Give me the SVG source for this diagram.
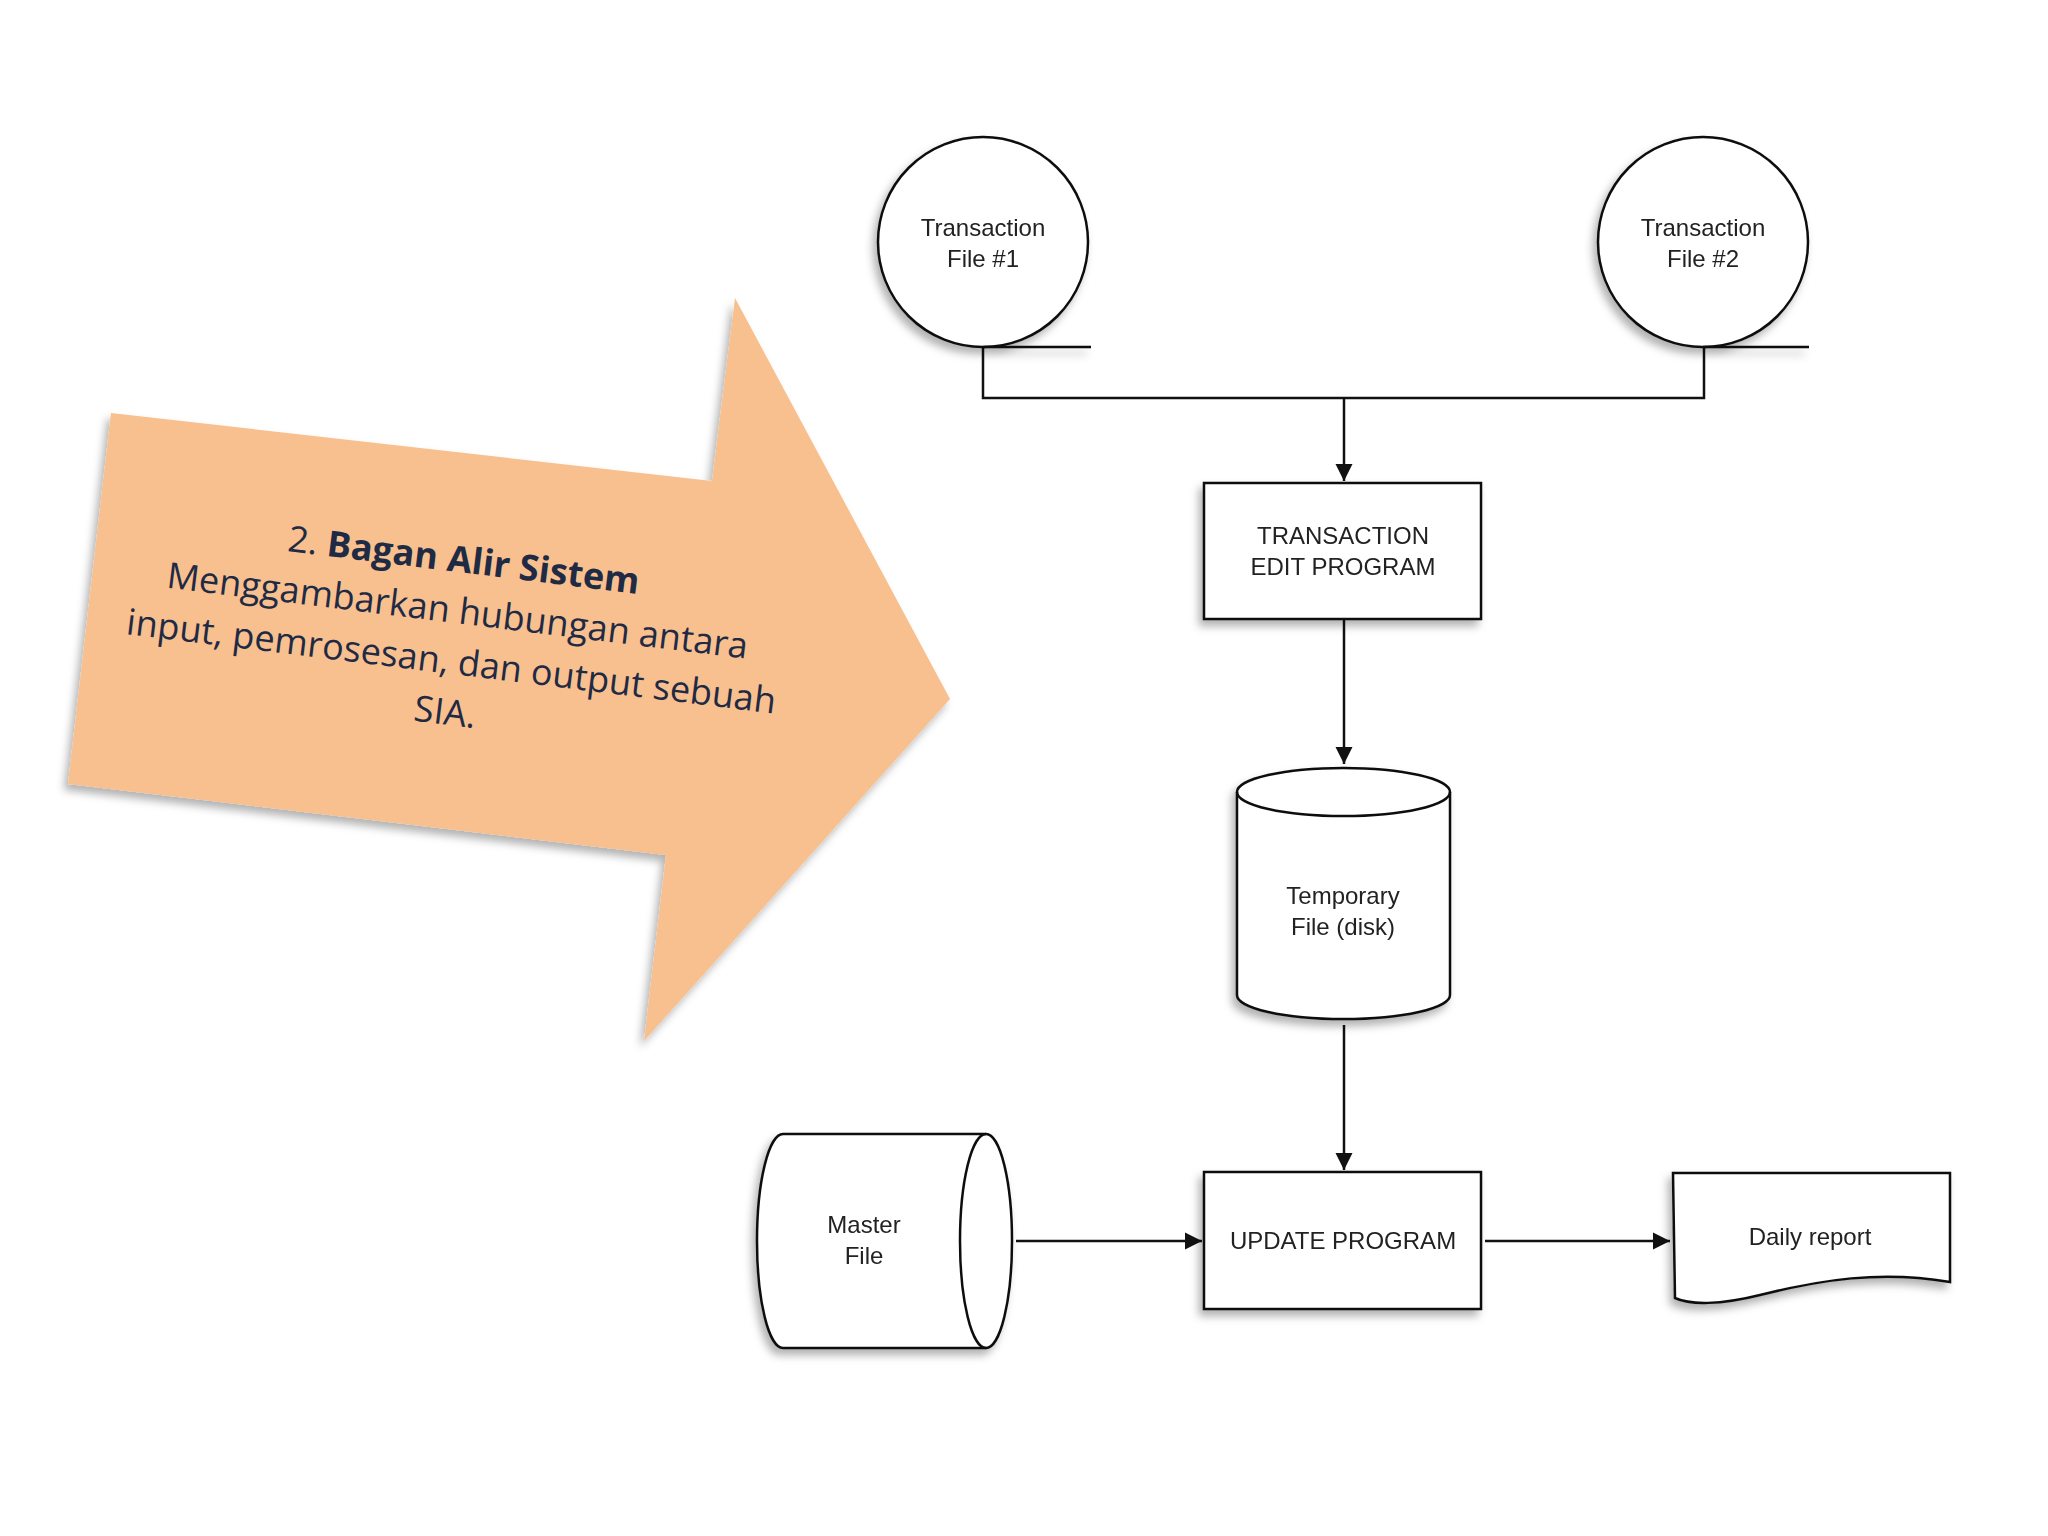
<svg xmlns="http://www.w3.org/2000/svg" width="2048" height="1536" viewBox="0 0 2048 1536">
<defs>
<style>
.s{fill:#fff;stroke:#111;stroke-width:2.5}
.l{fill:none;stroke:#111;stroke-width:2.5}
.t{font-family:"Liberation Sans",Arial,sans-serif;font-size:24px;fill:#222;text-anchor:middle}
.b{font-family:"Open Sans",sans-serif;font-size:36px;fill:#1f2a44;text-anchor:middle}
</style>
<marker id="a" viewBox="0 0 10 10" refX="10" refY="5" markerWidth="7" markerHeight="7" orient="auto"><path d="M0,0L10,5L0,10z" fill="#111"/></marker>
<filter id="sh" x="-20%" y="-20%" width="140%" height="140%"><feDropShadow dx="-4" dy="6" stdDeviation="4" flood-color="#000" flood-opacity="0.3"/></filter>
</defs>
<rect width="2048" height="1536" fill="#fff"/>
<g id="bigarrow">
<polygon points="111,413 712,481 735,298 950,699 644,1041 666,855 68,784" fill="#f8c08f" filter="url(#sh)"/>
<g transform="rotate(7 454 640)">
<text class="b" x="454" y="572"><tspan>2. </tspan><tspan font-weight="bold">Bagan Alir Sistem</tspan></text>
<text class="b" x="454" y="623">Menggambarkan hubungan antara</text>
<text class="b" x="454" y="674">input, pemrosesan, dan output sebuah</text>
<text class="b" x="454" y="725">SIA.</text>
</g>
</g>
<g id="connectors">
<path class="l" d="M983,347V398H1704V347"/>
<path class="l" d="M1344,398V481" marker-end="url(#a)"/>
<path class="l" d="M1344,619V764" marker-end="url(#a)"/>
<path class="l" d="M1344,1025V1170" marker-end="url(#a)"/>
<path class="l" d="M1016,1241H1202" marker-end="url(#a)"/>
<path class="l" d="M1485,1241H1670" marker-end="url(#a)"/>
</g>
<g id="tf1" filter="url(#sh)">
<circle class="s" cx="983" cy="242" r="105"/>
<path class="l" d="M983,347H1091"/>
<text class="t" x="983" y="236">Transaction</text><text class="t" x="983" y="267">File #1</text>
</g>
<g id="tf2" filter="url(#sh)">
<circle class="s" cx="1703" cy="242" r="105"/>
<path class="l" d="M1703,347H1809"/>
<text class="t" x="1703" y="236">Transaction</text><text class="t" x="1703" y="267">File #2</text>
</g>
<g id="tep" filter="url(#sh)">
<rect class="s" x="1204" y="483" width="277" height="136"/>
<text class="t" x="1343" y="544">TRANSACTION</text><text class="t" x="1343" y="575">EDIT PROGRAM</text>
</g>
<g id="temp" filter="url(#sh)">
<path class="s" d="M1237,792V995A106,24 0 0 0 1450,995V792A106,24 0 0 0 1237,792Z"/>
<path class="l" d="M1237,792A106,24 0 0 0 1450,792"/>
<text class="t" x="1343" y="904">Temporary</text><text class="t" x="1343" y="935">File (disk)</text>
</g>
<g id="up" filter="url(#sh)">
<rect class="s" x="1204" y="1172" width="277" height="137"/>
<text class="t" x="1343" y="1249">UPDATE PROGRAM</text>
</g>
<g id="master" filter="url(#sh)">
<path class="s" d="M986,1134H783A26,107 0 0 0 783,1348H986A26,107 0 0 0 986,1134Z"/>
<path class="l" d="M986,1134A26,107 0 0 0 986,1348"/>
<text class="t" x="864" y="1233">Master</text><text class="t" x="864" y="1264">File</text>
</g>
<g id="report" filter="url(#sh)">
<path class="s" d="M1673,1173H1950V1282C1880,1270 1820,1280 1760,1295C1720,1305 1690,1305 1675,1298Z"/>
<text class="t" x="1810" y="1245">Daily report</text>
</g>
</svg>
